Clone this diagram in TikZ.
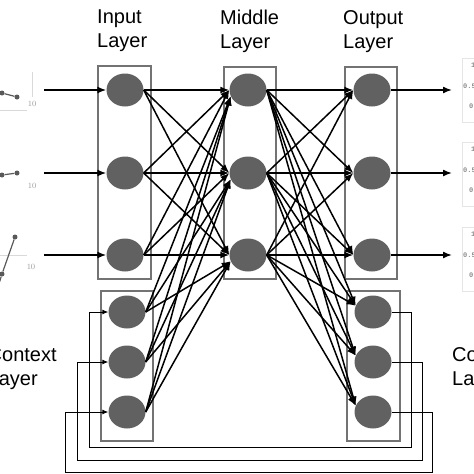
\documentclass[tikz,border=0pt]{standalone}
\usepackage{fontspec}
\setsansfont{Liberation Sans}
\setmonofont{Liberation Mono}
\usetikzlibrary{shapes.geometric,arrows.meta,positioning}

\begin{document}
\begin{tikzpicture}[x=1pt,y=-1pt,
    >={Latex[length=9pt,width=7pt]},
    neuron/.style={ellipse,fill=black!62,minimum width=37pt,minimum height=33pt,inner sep=0pt},
    layerbox/.style={draw=black!55,line width=1.6pt},
    conn/.style={->,line width=1.5pt},
    loopline/.style={-{Latex[length=6pt,width=5pt]},line width=0.9pt},
    title/.style={font=\sffamily\fontsize{20}{24}\selectfont,align=left,anchor=north west,inner sep=0pt},
    tick/.style={font=\rmfamily\fontsize{8}{8}\selectfont,text=black!40,inner sep=0pt},
    axis/.style={font=\ttfamily\bfseries\fontsize{7}{7}\selectfont,text=black!45,inner sep=0pt,anchor=west},
    dot/.style={circle,fill=black!65,inner sep=0pt,minimum size=5pt},
    plotline/.style={draw=black!65,line width=1.2pt}]
    \useasboundingbox (0,0) rectangle (474,474);
    \clip (0,0) rectangle (474,474);

    % Layers
    \draw[layerbox] (98,66) rectangle (151,279);
    \draw[layerbox] (224,67) rectangle (276,279);
    \draw[layerbox] (345,67) rectangle (397,279);
    \draw[layerbox] (101,291) rectangle (153,441);
    \draw[layerbox] (347,291) rectangle (400,441);

    \foreach \i/\y in {1/90,2/173,3/255} {
        \node[neuron] (in\i) at (125,\y) {};
        \node[neuron] (hid\i) at (248,\y) {};
        \node[neuron] (out\i) at (372,\y) {};
    }
    \foreach \i/\y in {1/312,2/362,3/412} {
        \node[neuron] (ctxl\i) at (127,\y) {};
        \node[neuron] (ctxr\i) at (373,\y) {};
    }

    \node[title] (ttlin) at (97,10) {Input\\Layer};
    \node[title] (ttlhid) at (220,10) {Middle\\Layer};
    \node[title] (ttlout) at (343,10) {Output\\Layer};
    \node[title] (ttlctxl) at (-12.5,347) {Context\\Layer};
    \node[title] (ttlctxr) at (452,347) {Context\\Layer};

    % Signals in and out
    \foreach \i/\y in {1/90,2/173,3/255} {
        \coordinate (src\i) at (44,\y);
        \coordinate (dst\i) at (452,\y);
        \draw[conn] (src\i) -- (in\i.west);
        \draw[conn] (out\i.east) -- (dst\i);
    }

    % Weights
    \foreach \i in {1,2,3}
        \foreach \j in {1,2,3} {
            \draw[conn] (in\i.east) -- (hid\j.west);
            \draw[conn] (ctxl\i.east) -- (hid\j.200);
            \draw[conn] (hid\i.east) -- (out\j.west);
            \draw[conn] (hid\i.east) -- (ctxr\j.160);
        }

    % Copy back to the context layer
    \foreach \i/\xr/\yb/\xl in {1/411/447/89,2/422/460/77,3/432/472/65}
        \draw[loopline] (ctxr\i.east) -| (\xr,\yb) -- (\xl,\yb) |- (ctxl\i.west);

    % Input series (cut off)
    \draw[black!15] (32,72) -- (32,97);
    \draw[black!15] (0,110) -- (27,110);
    \draw[black!15] (0,255) -- (27,255);
    \node[dot] (pa1) at (2,93) {};
    \node[dot] (pa2) at (17,97) {};
    \node[dot] (pb1) at (2,175) {};
    \node[dot] (pb2) at (17,173) {};
    \node[dot] (pc1) at (15,237) {};
    \node[dot] (pc2) at (2,274) {};
    \coordinate (pa0) at (-6,91);
    \coordinate (pb0) at (-6,176);
    \coordinate (pc0) at (-3,290);
    \draw[plotline] (pa0) -- (pa1) -- (pa2);
    \draw[plotline] (pb0) -- (pb1) -- (pb2);
    \draw[plotline] (pc1) -- (pc2) -- (pc0);
    \node[tick] (ta) at (32,104) {10};
    \node[tick] (tb) at (32,186) {10};
    \node[tick] (tc) at (31,267) {10};

    % Output series (cut off)
    \foreach \y in {58,142,227} {
        \draw[black!10] (490,\y) -| (462,\y+64) -- (490,\y+64);
        \node[axis] at (471,\y+7) {1};
        \node[axis] at (463,\y+28) {0.5};
        \node[axis] at (469,\y+48) {0};
    }
\end{tikzpicture}
\end{document}
